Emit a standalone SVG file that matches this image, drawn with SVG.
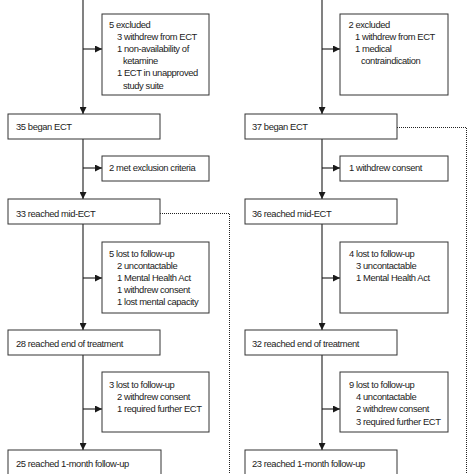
<svg xmlns="http://www.w3.org/2000/svg" width="474" height="474" viewBox="0 0 474 474">
<defs>
<marker id="ah" viewBox="0 0 10 10" refX="10" refY="5" markerWidth="7" markerHeight="7" markerUnits="userSpaceOnUse" orient="auto">
<path d="M0,0 L10,5 L0,10 Z" fill="#1a1a1a"/>
</marker>
<style>
.box{fill:#fff;stroke:#333;stroke-width:1}
.ln{fill:none;stroke:#1a1a1a;stroke-width:1.1}
.dot{fill:none;stroke:#222;stroke-width:1;stroke-dasharray:1 1}
text{font-family:"Liberation Sans",Arial,sans-serif;font-size:9.4px;letter-spacing:-0.4px;fill:#222}
</style>
</defs>
<rect width="474" height="474" fill="#fff"/>
<g id="connectors">
<line class="ln" x1="83" y1="0" x2="83" y2="114" marker-end="url(#ah)"/>
<line class="ln" x1="83" y1="49" x2="102" y2="49" marker-end="url(#ah)"/>
<line class="ln" x1="83" y1="139" x2="83" y2="199" marker-end="url(#ah)"/>
<line class="ln" x1="83" y1="168" x2="102" y2="168" marker-end="url(#ah)"/>
<line class="ln" x1="83" y1="224" x2="83" y2="330" marker-end="url(#ah)"/>
<line class="ln" x1="83" y1="278" x2="102" y2="278" marker-end="url(#ah)"/>
<line class="ln" x1="83" y1="355" x2="83" y2="450" marker-end="url(#ah)"/>
<line class="ln" x1="83" y1="409" x2="102" y2="409" marker-end="url(#ah)"/>
<line class="ln" x1="322" y1="0" x2="322" y2="114" marker-end="url(#ah)"/>
<line class="ln" x1="322" y1="49" x2="340" y2="49" marker-end="url(#ah)"/>
<line class="ln" x1="322" y1="139" x2="322" y2="199" marker-end="url(#ah)"/>
<line class="ln" x1="322" y1="168" x2="340" y2="168" marker-end="url(#ah)"/>
<line class="ln" x1="322" y1="224" x2="322" y2="330" marker-end="url(#ah)"/>
<line class="ln" x1="322" y1="278" x2="340" y2="278" marker-end="url(#ah)"/>
<line class="ln" x1="322" y1="355" x2="322" y2="450" marker-end="url(#ah)"/>
<line class="ln" x1="322" y1="409" x2="340" y2="409" marker-end="url(#ah)"/>
<polyline class="dot" points="160,213.5 229.5,213.5 229.5,474"/>
<polyline class="dot" points="397,127.5 466.5,127.5 466.5,474"/>
</g>
<g id="excl-left">
<rect class="box" x="102" y="14" width="107" height="81"/>
<text x="109" y="27.5">5 excluded</text>
<text x="117" y="39.7">3 withdrew from ECT</text>
<text x="117" y="51.9">1 non-availability of</text>
<text x="123" y="64.1">ketamine</text>
<text x="117" y="76.3">1 ECT in unapproved</text>
<text x="123" y="88.5">study suite</text>
</g>
<g id="excl-right">
<rect class="box" x="340" y="14" width="108" height="81"/>
<text x="348.5" y="27.5">2 excluded</text>
<text x="355" y="39.7">1 withdrew from ECT</text>
<text x="355" y="51.9">1 medical</text>
<text x="361" y="64.1">contraindication</text>
</g>
<g id="began-left">
<rect class="box" x="8" y="114" width="152" height="25"/>
<text x="16" y="130">35 began ECT</text>
</g>
<g id="began-right">
<rect class="box" x="245" y="114" width="152" height="25"/>
<text x="252" y="130">37 began ECT</text>
</g>
<g id="met-excl-left">
<rect class="box" x="102" y="156" width="107" height="25"/>
<text x="109" y="171">2 met exclusion criteria</text>
</g>
<g id="withdrew-right">
<rect class="box" x="340" y="156" width="108" height="25"/>
<text x="349" y="171">1 withdrew consent</text>
</g>
<g id="mid-left">
<rect class="box" x="8" y="199" width="152" height="25"/>
<text x="16" y="216.5">33 reached mid-ECT</text>
</g>
<g id="mid-right">
<rect class="box" x="245" y="199" width="152" height="25"/>
<text x="252" y="216.5">36 reached mid-ECT</text>
</g>
<g id="lost1-left">
<rect class="box" x="102" y="242" width="107" height="71"/>
<text x="109" y="257.3">5 lost to follow-up</text>
<text x="117" y="269.3">2 uncontactable</text>
<text x="117" y="281">1 Mental Health Act</text>
<text x="117" y="292.7">1 withdrew consent</text>
<text x="117" y="304.6">1 lost mental capacity</text>
</g>
<g id="lost1-right">
<rect class="box" x="340" y="242" width="108" height="71"/>
<text x="349" y="257.3">4 lost to follow-up</text>
<text x="356" y="269.3">3 uncontactable</text>
<text x="356" y="281">1 Mental Health Act</text>
</g>
<g id="end-left">
<rect class="box" x="8" y="330" width="152" height="25"/>
<text x="16" y="346.6">28 reached end of treatment</text>
</g>
<g id="end-right">
<rect class="box" x="245" y="330" width="152" height="25"/>
<text x="252" y="346.6">32 reached end of treatment</text>
</g>
<g id="lost2-left">
<rect class="box" x="102" y="372" width="107" height="60"/>
<text x="109" y="387.6">3 lost to follow-up</text>
<text x="117" y="399.8">2 withdrew consent</text>
<text x="117" y="412">1 required further ECT</text>
</g>
<g id="lost2-right">
<rect class="box" x="340" y="372" width="108" height="60"/>
<text x="349" y="387.6">9 lost to follow-up</text>
<text x="356" y="400">4 uncontactable</text>
<text x="356" y="412.3">2 withdrew consent</text>
<text x="356" y="424.6">3 required further ECT</text>
</g>
<g id="month-left">
<rect class="box" x="8" y="450" width="153" height="30"/>
<text x="16" y="466.7">25 reached 1-month follow-up</text>
</g>
<g id="month-right">
<rect class="box" x="245" y="450" width="152" height="30"/>
<text x="252" y="466.7">23 reached 1-month follow-up</text>
</g>
</svg>
